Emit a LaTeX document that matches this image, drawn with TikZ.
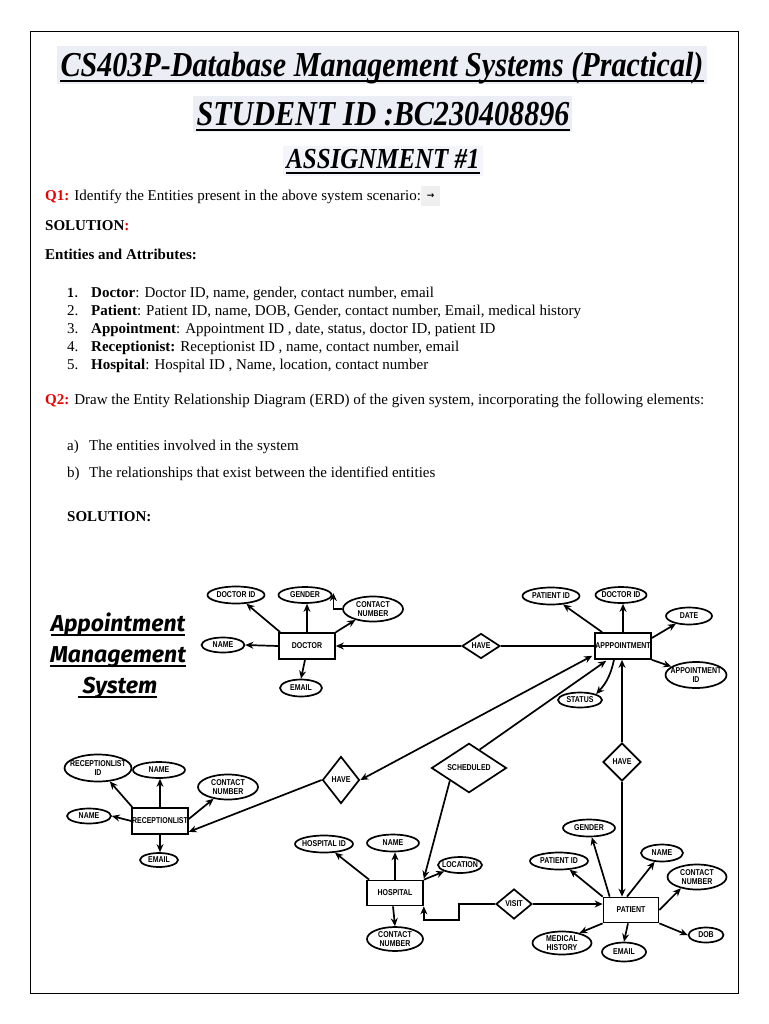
\documentclass[tikz,border=0pt]{standalone}
\usepackage{fontspec}
\setmainfont{Liberation Serif}
\newfontfamily\titlefam{Liberation Serif}[FakeStretch=0.86]
\newfontfamily\erfam{Liberation Sans}[FakeStretch=0.82]
\newfontfamily\symfam{DejaVu Sans}
\newfontfamily\ttlfam{Fira Sans}
\usetikzlibrary{shapes.geometric,arrows.meta,calc}
\definecolor{band}{RGB}{236,238,246}
\definecolor{qred}{RGB}{232,0,0}
\begin{document}
\begin{tikzpicture}[x=1pt,y=-1pt,
  body/.style={anchor=base west,inner sep=0pt,font=\fontsize{15}{18}\selectfont},
  ttl/.style={anchor=base,inner sep=0pt},
  ertitle/.style={anchor=base,inner sep=0pt,font=\ttlfam\fontsize{23}{23}\selectfont\bfseries\itshape},
  ulin/.style={line width=1.6pt},
  attr/.style={ellipse,draw,line width=1.7pt,inner xsep=-6pt,inner ysep=-1pt,align=center,font=\erfam\bfseries\fontsize{8.5}{8.8}\selectfont},
  ent/.style={rectangle,draw,line width=1.7pt,inner sep=0pt,minimum width=56pt,minimum height=26pt,font=\erfam\bfseries\fontsize{8.5}{8.8}\selectfont},
  rel/.style={diamond,draw,line width=1.7pt,inner sep=0pt,font=\erfam\bfseries\fontsize{8.5}{8.8}\selectfont},
  arr/.style={line width=1.7pt,-{Stealth[length=8pt,width=7pt]}},
  ln/.style={line width=1.7pt},
  sz/.style 2 args={minimum width=#1pt,minimum height=#2pt}]
\useasboundingbox (0,0) rectangle (768,1024);
\fill[white] (0,0) rectangle (768,1024);
\draw[line width=0.8pt] (30,31) rectangle (738,993);

% titles
\fill[band] (57,46) rectangle (707,84);
\node[ttl,font=\titlefam\fontsize{35}{40}\selectfont\bfseries\itshape] (t1) at (382,77) {CS403P-Database Management Systems (Practical)};
\draw[ulin] ($(t1.base west)+(0,4)$) -- ($(t1.base east)+(0,4)$);
\fill[band] (193,96) rectangle (572,132);
\node[ttl,font=\titlefam\fontsize{35}{40}\selectfont\bfseries\itshape] (t2) at (383,126) {STUDENT ID :BC230408896};
\draw[ulin] ($(t2.base west)+(0,4)$) -- ($(t2.base east)+(0,4)$);
\fill[band!60] (283,146) rectangle (483,176);
\node[ttl,font=\titlefam\fontsize{29}{34}\selectfont\bfseries\itshape] (t3) at (383,169) {ASSIGNMENT \#1};
\draw[ulin] ($(t3.base west)+(0,4)$) -- ($(t3.base east)+(0,4)$);

% body text
\node[body] (q1) at (45,201) {\textcolor{qred}{\bfseries Q1:} Identify the Entities present in the above system scenario:};
\node[fill=gray!12,inner sep=0pt,minimum width=19pt,minimum height=20pt,anchor=west,font=\symfam\bfseries\fontsize{9}{9}\selectfont] (q1arr) at (421,196) {→};
\node[body,font=\fontsize{15}{18}\selectfont\bfseries] (sol1) at (45,230) {SOLUTION\textcolor{qred}{:}};
\node[body,font=\fontsize{15}{18}\selectfont\bfseries] (ent) at (45,259) {Entities and Attributes:};

\node[body,font=\sffamily\bfseries\fontsize{13}{15}\selectfont] (n1) at (67,297) {1.};
\node[body] (i1) at (91,297) {\textbf{Doctor}: Doctor ID, name, gender, contact number, email};
\node[body] (n2) at (67,315) {2.};
\node[body] (i2) at (91,315) {\textbf{Patient}: Patient ID, name, DOB, Gender, contact number, Email, medical history};
\node[body] (n3) at (67,333) {3.};
\node[body] (i3) at (91,333) {\textbf{Appointment}: Appointment ID , date, status, doctor ID, patient ID};
\node[body] (n4) at (67,351) {4.};
\node[body] (i4) at (91,351) {\textbf{Receptionist:} Receptionist ID , name, contact number, email};
\node[body] (n5) at (67,369) {5.};
\node[body] (i5) at (91,369) {\textbf{Hospital}: Hospital ID , Name, location, contact number};

\node[body] (q2) at (45,404) {\textcolor{qred}{\bfseries Q2:} Draw the Entity Relationship Diagram (ERD) of the given system, incorporating the following elements:};
\node[body] (la) at (67,450) {a)};
\node[body] (ta) at (89,450) {The entities involved in the system};
\node[body] (lb) at (67,477) {b)};
\node[body] (tb) at (89,477) {The relationships that exist between the identified entities};
\node[body,font=\fontsize{15}{18}\selectfont\bfseries] (sol2) at (67,521) {SOLUTION:};

% ER title
\node[ertitle] (e1) at (118,631) {Appointment};
\draw[line width=2.4pt] ($(e1.base west)+(0,4)$) -- ($(e1.base east)+(0,4)$);
\node[ertitle] (e2) at (118,662) {Management};
\draw[line width=2.4pt] ($(e2.base west)+(0,4)$) -- ($(e2.base east)+(0,4)$);
\node[ertitle] (e3) at (120,693) {System};
\draw[line width=2.4pt] ($(e3.base west)+(-5,4)$) -- ($(e3.base east)+(0,4)$);

% Doctor
\node[ent] (doc) at (307,646) {DOCTOR};
\node[attr,sz={57}{17}] (dId) at (236,595) {DOCTOR ID};
\node[attr,sz={53}{16}] (dGen) at (305,595) {GENDER};
\node[attr,sz={60}{25}] (dCn) at (373,609) {CONTACT\\NUMBER};
\node[attr,sz={43}{15}] (dName) at (223,645) {NAME};
\node[attr,sz={42}{17}] (dEm) at (301,688) {EMAIL};

% Appointment
\node[ent] (appt) at (623,646) {APPPOINTMENT};
\node[attr,sz={57}{17}] (aPid) at (551,596) {PATIENT ID};
\node[attr,sz={51}{16}] (aDid) at (621,595) {DOCTOR ID};
\node[attr,sz={46}{17}] (aDate) at (689,616) {DATE};
\node[attr,sz={61}{26}] (aAid) at (696,675) {APPOINTMENT\\ID};
\node[attr,sz={44}{15}] (aSt) at (580,700) {STATUS};

% relationships
\node[rel,sz={38}{25}] (have1) at (481,646) {HAVE};
\node[rel,sz={37}{47}] (haveL) at (341,780) {HAVE};
\node[rel,sz={75}{42}] (sched) at (469,768) {SCHEDULED};
\node[rel,sz={38}{38}] (haveR) at (622,762) {HAVE};
\node[rel,sz={36}{30}] (visit) at (514,904) {VISIT};

% Receptionist
\node[ent,minimum width=55pt] (rec) at (160,821) {RECEPTIONLIST};
\node[attr,sz={67}{27}] (rId) at (98,768) {RECEPTIONLIST\\ID};
\node[attr,sz={52}{16}] (rName) at (159,770) {NAME};
\node[attr,sz={60}{25}] (rCn) at (228,787) {CONTACT\\NUMBER};
\node[attr,sz={44}{15}] (rName2) at (89,816) {NAME};
\node[attr,sz={38}{14}] (rEm) at (159,860) {EMAIL};

% Hospital
\node[ent,minimum height=25pt] (hos) at (395,893) {HOSPITAL};
\node[attr,sz={58}{17}] (hId) at (324,844) {HOSPITAL ID};
\node[attr,sz={52}{17}] (hName) at (393,843) {NAME};
\node[attr,sz={44}{16}] (hLoc) at (460,865) {LOCATION};
\node[attr,sz={56}{24}] (hCn) at (395,939) {CONTACT\\NUMBER};

% Patient
\node[ent,minimum width=55pt,minimum height=25pt] (pat) at (631,910) {PATIENT};
\node[attr,sz={52}{17}] (pGen) at (589,828) {GENDER};
\node[attr,sz={58}{17}] (pId) at (559,861) {PATIENT ID};
\node[attr,sz={42}{17}] (pName) at (662,853) {NAME};
\node[attr,sz={59}{25}] (pCn) at (697,877) {CONTACT\\NUMBER};
\node[attr,sz={59}{23}] (pMh) at (562,943) {MEDICAL\\HISTORY};
\node[attr,sz={44}{19}] (pEm) at (624,952) {EMAIL};
\node[attr,sz={35}{15}] (pDob) at (706,935) {DOB};

% Doctor connectors
\draw[arr] ($(doc.north west)+(2,0)$) -- (dId);
\draw[arr] (doc.north) -- (doc.north |- dGen.south);
\draw[arr] (doc.north east) -- (dCn);
\draw[arr] (doc.west) -- (dName.east);
\draw[arr] ($(doc.south)+(-2,0)$) -- (dEm.north);
\draw[arr] (dCn.west) -| ($(dGen.east)+(1,-2)$);

% Appointment connectors
\draw[ln] (appt.west) -- (have1.east);
\draw[arr] (have1.west) -- (doc.east);
\draw[arr] ($(appt.north west)+(8,0)$) -- (aPid);
\draw[arr] (appt.north) -- (appt.north |- aDid.south);
\draw[arr] ($(appt.east)+(0,-8)$) -- (aDate);
\draw[arr] (appt.south east) -- (aAid);
\draw[arr] ($(appt.south)+(-9,0)$) to[bend left=15] (aSt.north east);
\draw[line width=1.7pt,{Stealth[length=8pt,width=7pt]}-{Stealth[length=8pt,width=7pt]}] ($(appt.south west)+(-2,-4)$) -- (haveL.east);
\draw[arr] (sched.60) -- ($(appt.south west)+(12,1)$);
\draw[arr] (haveR.north) -- (haveR.north |- appt.south);
\draw[arr] (haveR.south) -- (haveR.south |- pat.north);

% Receptionist connectors
\draw[arr] ($(rec.north west)+(1,0)$) -- (rId);
\draw[arr] (rec.north) -- (rec.north |- rName.south);
\draw[arr] ($(rec.east)+(0,-2)$) -- (rCn);
\draw[arr] (rec.west) -- (rName2.east);
\draw[arr] (rec.south) -- (rec.south |- rEm.north);
\draw[arr] (haveL.west) -- ($(rec.south east)+(0,-3)$);

% Hospital connectors
\draw[arr] ($(hos.north west)+(3,0)$) -- (hId);
\draw[arr] (hos.north) -- (hos.north |- hName.south);
\draw[arr] (hos.north east) -- (hLoc);
\draw[arr] ($(hos.south)+(-2,0)$) -- (hCn.north);
\draw[arr] (sched.south west) -- ($(hos.north east)+(0,-1)$);
\draw[arr] (visit.west) -- ++(-36,0) -- ++(0,16) -| (hos.south east);
\draw[arr] (visit.east) -- (visit.east -| pat.west);

% Patient connectors
\draw[arr] ($(pat.north west)+(7,0)$) -- (pGen);
\draw[arr] (pat.north west) -- (pId);
\draw[arr] ($(pat.north)+(-4,0)$) -- (pName.230);
\draw[arr] (pat.east) -- (pCn.215);
\draw[arr] (pat.south east) -- (pDob.west);
\draw[arr] ($(pat.south)+(-3,0)$) -- (pEm.north);
\draw[arr] (pat.south west) -- (pMh.30);
\end{tikzpicture}
\end{document}
